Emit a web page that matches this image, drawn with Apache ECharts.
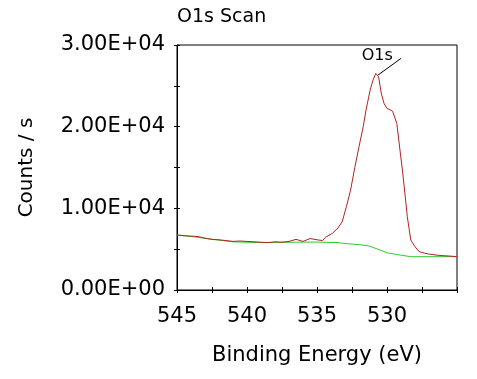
<!DOCTYPE html>
<html><head><meta charset="utf-8">
<script src="https://cdn.jsdelivr.net/npm/echarts@6/dist/echarts.min.js"></script>
<style>html,body{margin:0;padding:0;background:#fff}#c{width:477px;height:379px}</style>
</head><body><div id="c"></div>
<script>
const energyRed = [545,544.5,544,543.5,543,542.5,542,541.5,541,540.5,540,539.5,539,538.5,538,537.5,537,536.5,536,535.5,535,534.6,534.4,533.9,533.5,533.2,532.9,532.6,532.3,532.0,531.7,531.5,531.2,531.0,530.8,530.6,530.4,530.2,530.0,529.6,529.3,529.1,528.9,528.7,528.55,528.3,528.0,527.7,527.3,527,526.5,526,525.5,525];
const countsRed = [6730,6650,6600,6550,6350,6200,6150,6050,5950,6000,5950,5900,5850,5800,5900,5850,5950,6200,5950,6300,6150,6050,6450,6940,7600,8360,10200,12240,15000,17540,20000,22030,24500,25700,26520,26100,24000,22800,22240,21900,20400,17500,14690,11500,8970,6120,5300,4690,4500,4400,4280,4200,4150,4080];
const energyGreen = [545,543.5,542.5,541,539,537,535,533.5,533,532,531.3,530.5,530,529.3,528.3,525];
const countsGreen = [6730,6450,6200,5900,5800,5850,5870,5800,5700,5550,5400,4900,4550,4350,4080,4080];
const xTickLabels = [545,540,535,530];
const yTickLabels = ['0.00E+00','1.00E+04','2.00E+04','3.00E+04'];
const peakName = 'O1s';

const FONT = 'DejaVu Sans';
const chart = echarts.init(document.getElementById('c'));
chart.setOption({
  animation:false,
  title:{text:'O1s Scan',left:172,top:3,textStyle:{fontFamily:FONT,fontSize:19,fontWeight:'normal',color:'#000'}},
  grid:{left:177,top:45,right:20,bottom:89,show:true,borderColor:'#000',borderWidth:1},
  xAxis:[{
    type:'value',inverse:true,min:525,max:545,interval:2.5,
    name:'Binding Energy (eV)',nameLocation:'middle',nameGap:55,
    nameTextStyle:{fontFamily:FONT,fontSize:21,color:'#000'},
    axisLine:{lineStyle:{color:'#000'}},
    axisTick:{show:true,length:3,lineStyle:{color:'#000'}},
    splitLine:{show:false},
    axisLabel:{margin:16,fontFamily:FONT,fontSize:21,color:'#000',
      formatter:v=>xTickLabels.indexOf(v)>=0?String(v):''}
  },{
    type:'value',inverse:true,min:525,max:545,interval:2.5,position:'bottom',
    axisLine:{show:false},axisTick:{show:true,inside:true,length:3,lineStyle:{color:'#000'}},
    axisLabel:{show:false},splitLine:{show:false}
  }],
  yAxis:[{
    type:'value',min:0,max:30000,interval:5000,
    name:'Counts / s',nameLocation:'middle',nameGap:140,
    nameTextStyle:{fontFamily:FONT,fontSize:20,color:'#000'},
    axisLine:{show:true,lineStyle:{color:'#000'}},
    axisTick:{show:true,length:3,lineStyle:{color:'#000'}},
    splitLine:{show:false},
    axisLabel:{margin:12,fontFamily:FONT,fontSize:21,color:'#000',
      formatter:v=>(v%10000===0)?yTickLabels[v/10000]:''}
  },{
    type:'value',min:0,max:30000,interval:5000,position:'left',
    axisLine:{show:false},axisTick:{show:true,inside:true,length:3,lineStyle:{color:'#000'}},
    axisLabel:{show:false},splitLine:{show:false}
  }],
  series:[{
    type:'line',showSymbol:false,
    data:energyGreen.map((e,i)=>[e,countsGreen[i]]),
    lineStyle:{color:'#2ecc2e',width:1}
  },{
    type:'line',showSymbol:false,
    data:energyRed.map((e,i)=>[e,countsRed[i]]),
    lineStyle:{color:'#b22222',width:1},
    markLine:{silent:true,symbol:'none',label:{show:false},lineStyle:{color:'#000',width:1,type:'solid'},
      data:[[{coord:[530.64,26320]},{coord:[529.0,28360]}]]},
    markPoint:{symbol:'circle',symbolSize:0,
      label:{show:true,formatter:peakName,fontFamily:FONT,fontSize:16,color:'#000'},
      data:[{coord:[530.7,28640]}]}
  }]
});
</script></body></html>
